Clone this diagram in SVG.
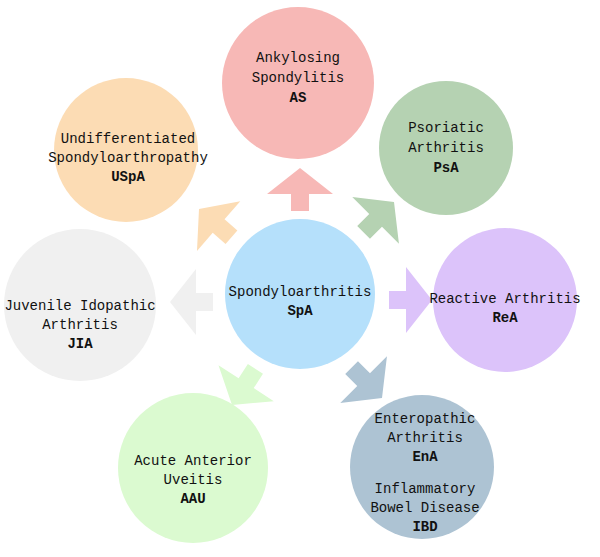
<svg xmlns="http://www.w3.org/2000/svg" width="600" height="557" viewBox="0 0 600 557">
<defs>
<style>
text{font-family:"Liberation Mono","DejaVu Sans Mono",monospace;font-size:14px;fill:#111;text-anchor:middle}
.b{font-weight:bold}
</style>
<polygon id="arr" points="-43,-9 -26,-9 -26,-33 0,0 -26,33 -26,9 -43,9"/>
</defs>
<rect width="600" height="557" fill="#fff"/>
<g id="connectors">
<use href="#arr" fill="#f7b8b6" transform="translate(300,168) rotate(-90)"/>
<use href="#arr" fill="#b5d2b2" transform="translate(394,202) rotate(-45)"/>
<use href="#arr" fill="#dcc3fa" transform="translate(432,300)"/>
<use href="#arr" fill="#adc3d3" transform="translate(382,398) rotate(45)"/>
<use href="#arr" fill="#dbfad0" transform="translate(232,405) rotate(123)"/>
<use href="#arr" fill="#f0f0f0" transform="translate(170,302) rotate(180)"/>
<use href="#arr" fill="#fcdcb4" transform="translate(199,209) rotate(-139)"/>
</g>
<g id="SpA"><circle cx="300" cy="294" r="75" fill="#b5e0fb"/><text x="300" y="296">Spondyloarthritis</text><text class="b" x="300" y="315">SpA</text></g>
<g id="AS"><circle cx="298" cy="83" r="76" fill="#f7b8b6"/><text x="298" y="62">Ankylosing</text><text x="298" y="82">Spondylitis</text><text class="b" x="298" y="102">AS</text></g>
<g id="PsA"><circle cx="446" cy="148" r="67" fill="#b5d2b2"/><text x="446" y="132">Psoriatic</text><text x="446" y="152">Arthritis</text><text class="b" x="446" y="172">PsA</text></g>
<g id="ReA"><circle cx="505" cy="300" r="72" fill="#dcc3fa"/><text x="505" y="303">Reactive Arthritis</text><text class="b" x="505" y="322">ReA</text></g>
<g id="EnA"><circle cx="422" cy="467" r="72" fill="#adc3d3"/><text x="425" y="423">Enteropathic</text><text x="425" y="442">Arthritis</text><text class="b" x="425" y="461">EnA</text><text x="425" y="493">Inflammatory</text><text x="425" y="512">Bowel Disease</text><text class="b" x="425" y="531">IBD</text></g>
<g id="AAU"><circle cx="193" cy="468" r="75" fill="#dbfad0"/><text x="193" y="465">Acute Anterior</text><text x="193" y="484">Uveitis</text><text class="b" x="193" y="503">AAU</text></g>
<g id="JIA"><circle cx="80" cy="305" r="76" fill="#f0f0f0"/><text x="80" y="310">Juvenile Idopathic</text><text x="80" y="329">Arthritis</text><text class="b" x="80" y="348">JIA</text></g>
<g id="USpA"><circle cx="126" cy="150" r="72" fill="#fcdcb4"/><text x="128" y="143">Undifferentiated</text><text x="128" y="162">Spondyloarthropathy</text><text class="b" x="128" y="181">USpA</text></g>
</svg>
